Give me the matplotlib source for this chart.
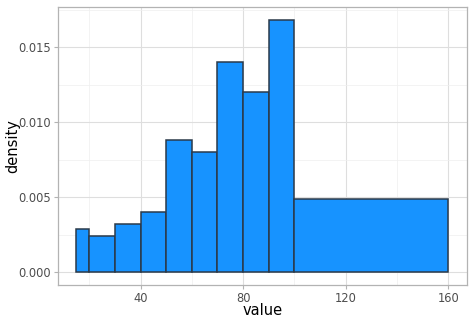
import matplotlib
matplotlib.use("Agg")
import matplotlib.pyplot as plt
import numpy as np

# histogram bins (variable width) and densities
bin_edges = [15, 20, 30, 40, 50, 60, 70, 80, 90, 100, 160]
density = [0.0029, 0.0024, 0.0032, 0.0040, 0.0088, 0.0080, 0.0140, 0.0120, 0.0168, 0.0049]

x_ticks = [40, 80, 120, 160]
y_ticks = [0.000, 0.005, 0.010, 0.015]
y_labels = ["0.000", "0.005", "0.010", "0.015"]

fig = plt.figure(figsize=(4.74, 3.24), dpi=100)
ax = fig.add_axes([0.122, 0.120, 0.863, 0.857])

lefts = np.array(bin_edges[:-1])
widths = np.diff(bin_edges)
ax.bar(lefts, density, width=widths, align="edge",
       color="#1793FF", edgecolor="#2B3A4A", linewidth=1.1, zorder=3)

span = bin_edges[-1] - bin_edges[0]
ax.set_xlim(bin_edges[0] - 0.05 * span, bin_edges[-1] + 0.05 * span)
ymax = max(density)
ax.set_ylim(-0.05 * ymax, ymax * 1.05)

ax.set_xticks(x_ticks)
ax.set_yticks(y_ticks)
ax.set_yticklabels(y_labels)
ax.set_xticks([20, 60, 100, 140], minor=True)
ax.set_yticks([0.0025, 0.0075, 0.0125, 0.0175], minor=True)

ax.grid(which="major", color="#DEDEDE", linewidth=0.8, zorder=0)
ax.grid(which="minor", color="#EFEFEF", linewidth=0.5, zorder=0)
ax.set_axisbelow(True)

for s in ax.spines.values():
    s.set_color("#B3B3B3")
    s.set_linewidth(0.9)

ax.tick_params(which="major", length=3, color="#B3B3B3", labelsize=8.3,
               labelcolor="#4D4D4D", pad=2)
ax.tick_params(which="minor", length=0)

ax.set_xlabel("value", fontsize=10.5)
ax.set_ylabel("density", fontsize=10.5)
ax.yaxis.set_label_coords(-0.092, 0.5)
ax.xaxis.set_label_coords(0.5, -0.065)

fig.savefig("out.png", dpi=100)
